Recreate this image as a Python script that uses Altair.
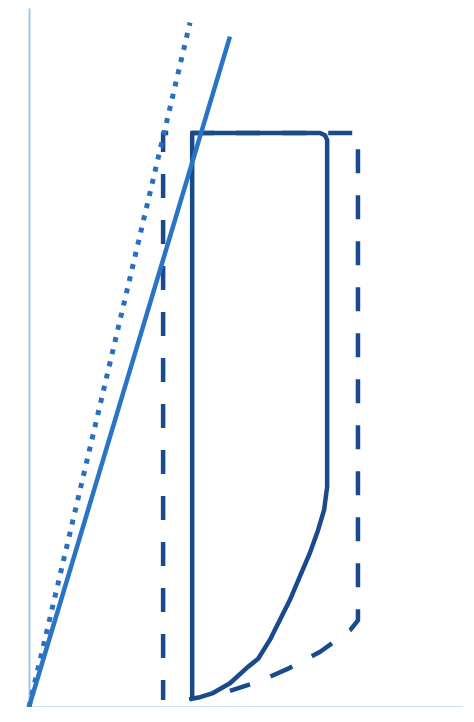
import altair as alt
import pandas as pd

# Straight lines from the origin
dotted_x = [0.0, 37.1]
dotted_y = [0.0, 97.9]
light_x = [0.0, 46.3]
light_y = [0.0, 95.9]

# Dashed outline
dashed_x = [30.9, 30.9, 75.8, 75.8, 74.0, 67.1, 60.1, 53.2, 46.3]
dashed_y = [1.0, 82.1, 82.1, 12.4, 11.0, 7.9, 5.6, 3.7, 2.3]

# Solid dark outline
solid_x = [37.6, 37.6, 67.1, 68.2, 68.7, 68.7, 68.0, 66.6, 64.7, 60.1, 55.5,
           52.8, 50.2, 46.3, 42.4, 39.4, 36.9]
solid_y = [1.1, 82.1, 82.1, 81.8, 81.1, 31.5, 28.2, 25.3, 22.0, 15.3, 9.6,
           6.9, 5.6, 3.4, 2.0, 1.4, 1.1]


def frame(xs, ys):
    return pd.DataFrame({"x": xs, "y": ys, "o": list(range(len(xs)))})


xs = alt.Scale(domain=[0, 100], nice=False, zero=False)
ys = alt.Scale(domain=[0, 100], nice=False, zero=False)
axis_style = dict(domainColor="#a3c3e2", domainWidth=2, ticks=False, labels=False,
                  grid=False, title=None)


def enc(chart):
    return chart.encode(
        x=alt.X("x:Q", scale=xs, axis=alt.Axis(**axis_style)),
        y=alt.Y("y:Q", scale=ys, axis=alt.Axis(**axis_style)),
        order="o:Q",
    )


dotted = enc(alt.Chart(frame(dotted_x, dotted_y)).mark_line(
    color="#2a6fbf", strokeWidth=5, strokeDash=[5, 7.5], strokeCap="butt"))
light = enc(alt.Chart(frame(light_x, light_y)).mark_line(
    color="#2a74c6", strokeWidth=4.5))
dashed = enc(alt.Chart(frame(dashed_x, dashed_y)).mark_line(
    color="#1b4a8c", strokeWidth=4.5, strokeDash=[24, 22], strokeDashOffset=4,
    strokeJoin="round"))
solid = enc(alt.Chart(frame(solid_x, solid_y)).mark_line(
    color="#1b4a8c", strokeWidth=4.5, strokeJoin="round"))

chart = alt.layer(dashed, solid, dotted, light).properties(
    width=434, height=699,
    autosize=alt.AutoSizeParams(type="none"),
    padding={"left": 21, "top": 0, "right": 0, "bottom": 0},
).configure_view(stroke=None)

chart.save("out.html", embed_options={"renderer": "svg", "actions": False})
